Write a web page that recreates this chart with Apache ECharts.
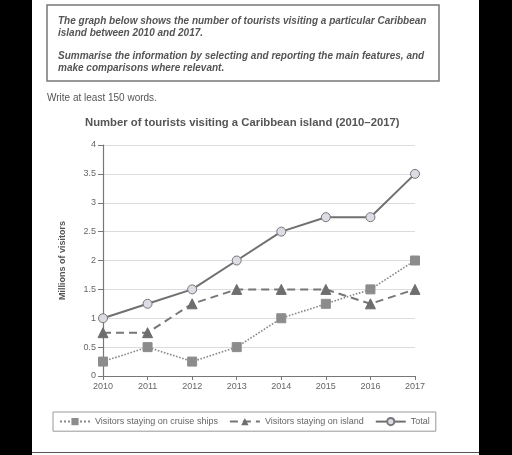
<!DOCTYPE html>
<html><head><meta charset="utf-8">
<script src="https://cdn.jsdelivr.net/npm/echarts@6/dist/echarts.min.js"></script>
<style>html,body{margin:0;padding:0;background:#000;}#c{width:512px;height:455px;}</style>
</head><body><div id="c"></div>
<script>
const years = ['2010','2011','2012','2013','2014','2015','2016','2017'];
const cruise = [0.25, 0.5, 0.25, 0.5, 1, 1.25, 1.5, 2];
const island = [0.75, 0.75, 1.25, 1.5, 1.5, 1.5, 1.25, 1.5];
const total = [1, 1.25, 1.5, 2, 2.5, 2.75, 2.75, 3.5];
const seriesNames = ['Visitors staying on cruise ships', 'Visitors staying on island', 'Total'];
const FONT = "'Liberation Sans', Arial, sans-serif";
const chart = echarts.init(document.getElementById('c'));
chart.setOption({
  backgroundColor: '#000',
  animation: false,
  textStyle: {fontFamily: FONT},
  graphic: [
    {type:'rect', z:-10, shape:{x:32,y:0,width:447,height:455}, style:{fill:'#fff'}},
    {type:'line', shape:{x1:32,y1:452.5,x2:479,y2:452.5}, style:{stroke:'#555',lineWidth:1}},
    {type:'rect', shape:{x:47,y:5,width:392,height:76}, style:{fill:'none',stroke:'#777',lineWidth:1.5}},
    {type:'text', left:58, top:15, style:{text:'The graph below shows the number of tourists visiting a particular Caribbean\nisland between 2010 and 2017.', font:"italic bold 10px 'Liberation Sans', Arial", fill:'#555', lineHeight:12}},
    {type:'text', left:58, top:50, style:{text:'Summarise the information by selecting and reporting the main features, and\nmake comparisons where relevant.', font:"italic bold 10px 'Liberation Sans', Arial", fill:'#555', lineHeight:12}},
    {type:'text', left:47, top:93, style:{text:'Write at least 150 words.', font:"10px 'Liberation Sans', Arial", fill:'#555'}},
    {type:'text', left:85, top:117, style:{text:'Number of tourists visiting a Caribbean island (2010–2017)', font:"bold 11.3px 'Liberation Sans', Arial", fill:'#555'}}
  ],
  grid: {left:103, right:97, top:145, bottom:79, containLabel:false},
  legend: {
    left:53, top:412, padding:[5,6], itemGap:11, itemWidth:30, itemHeight:9,
    borderColor:'#999', borderWidth:1,
    textStyle:{fontSize:9, color:'#666', fontFamily:FONT},
    data: seriesNames
  },
  xAxis: {
    type:'category', data:years, boundaryGap:false,
    axisLine:{lineStyle:{color:'#777', width:1.2}},
    axisTick:{show:true, length:4, lineStyle:{color:'#777'}},
    axisLabel:{color:'#666', fontSize:9, margin:6}
  },
  yAxis: {
    type:'value', min:0, max:4, interval:0.5,
    name:'Millions of visitors', nameLocation:'middle', nameGap:36,
    nameTextStyle:{fontWeight:'bold', fontSize:9, color:'#555'},
    axisLine:{show:true, lineStyle:{color:'#777', width:1.2}},
    axisTick:{show:true, length:5, lineStyle:{color:'#777'}},
    axisLabel:{color:'#666', fontSize:9, margin:7},
    splitLine:{lineStyle:{color:'#dcdce0', width:1}}
  },
  series: [
    {name:seriesNames[0], type:'line', data:cruise, symbol:'rect', symbolSize:9,
     lineStyle:{type:'dotted', color:'#888', width:1.6},
     itemStyle:{color:'#8c8c8c', borderColor:'#8c8c8c'}},
    {name:seriesNames[1], type:'line', data:island, symbol:'triangle', symbolSize:10,
     lineStyle:{type:[8,5], color:'#777', width:2},
     itemStyle:{color:'#6e6e6e', borderColor:'#6e6e6e'}},
    {name:seriesNames[2], type:'line', data:total, symbol:'circle', symbolSize:9,
     lineStyle:{type:'solid', color:'#707070', width:2},
     itemStyle:{color:'#dcdce4', borderColor:'#777', borderWidth:1}}
  ]
});
</script></body></html>
